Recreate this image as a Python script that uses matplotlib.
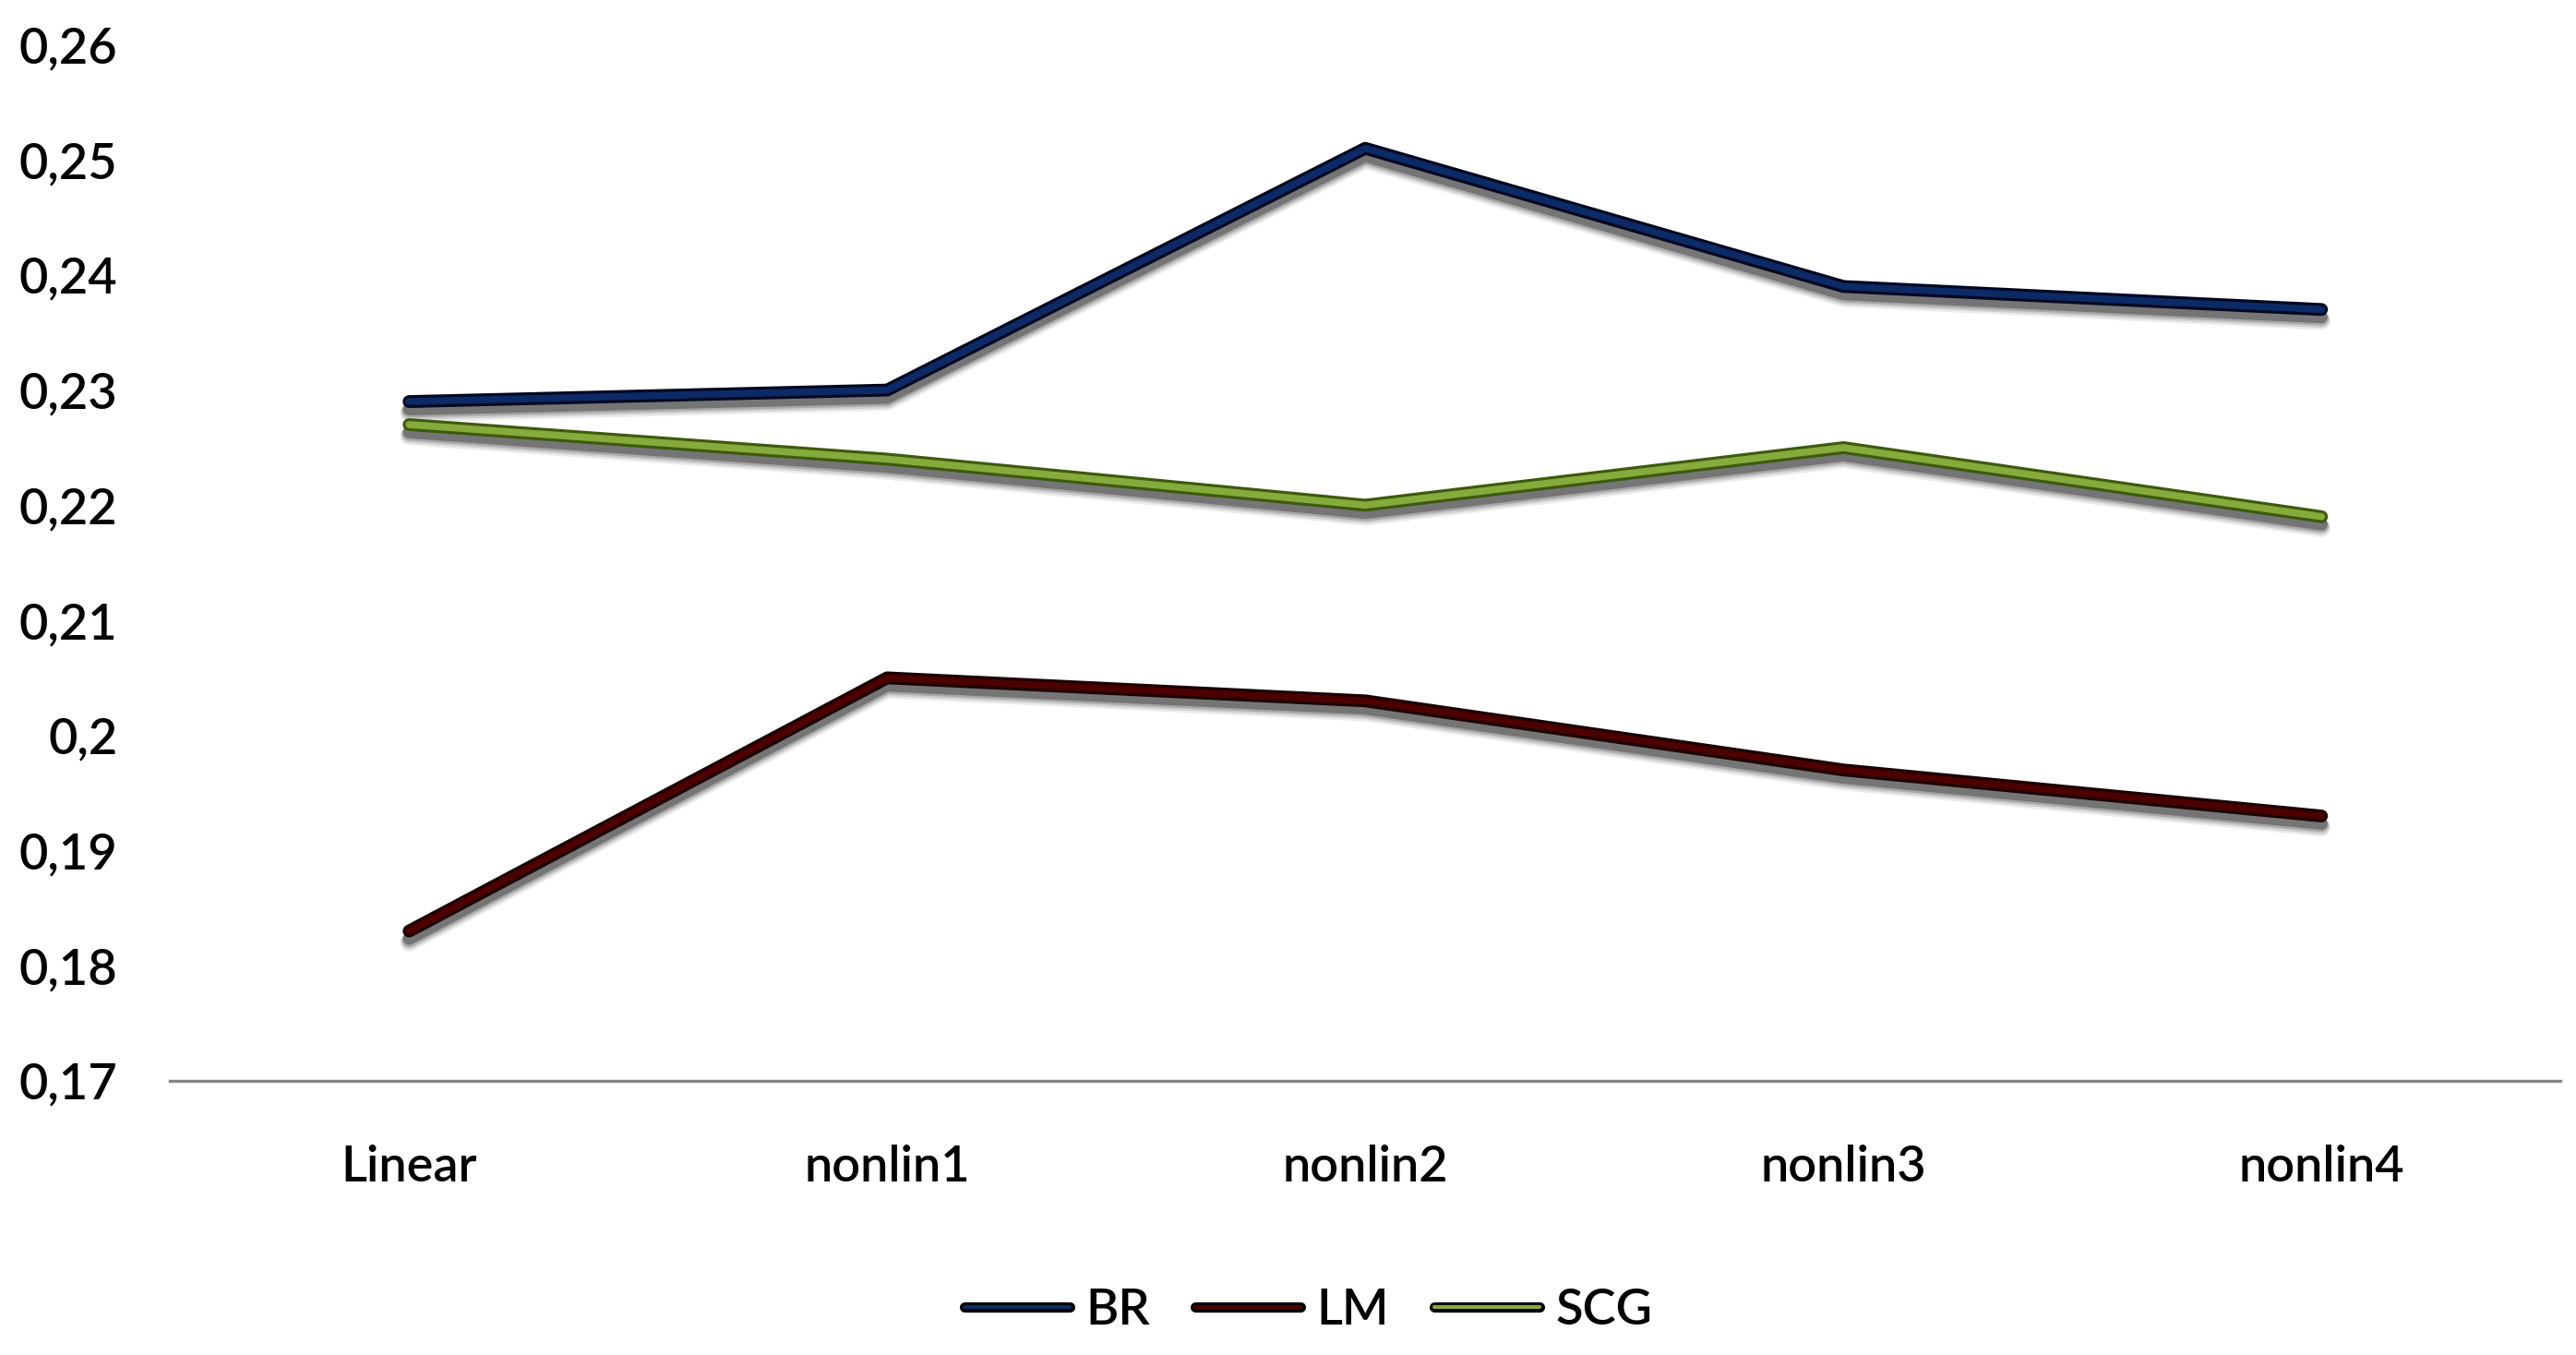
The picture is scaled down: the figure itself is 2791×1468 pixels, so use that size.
import matplotlib
matplotlib.use("Agg")
import matplotlib.pyplot as plt
import matplotlib.patheffects as pe
from matplotlib.ticker import FuncFormatter, MultipleLocator

categories = ["Linear", "nonlin1", "nonlin2", "nonlin3", "nonlin4"]
br = [0.229, 0.230, 0.251, 0.239, 0.237]
lm = [0.183, 0.205, 0.203, 0.197, 0.193]
scg = [0.227, 0.224, 0.220, 0.225, 0.219]
series_names = ["BR", "LM", "SCG"]

plt.rcParams['font.family'] = ['Lato', 'DejaVu Sans']
plt.rcParams['font.weight'] = 'semibold'

fig = plt.figure(figsize=(27.91, 14.68), dpi=100)
ax = fig.add_axes([0.066, 0.2024, 0.928, 0.7646])

styles = [
    ("#0c2a66", "#00081f"),
    ("#4c0000", "#1a0000"),
    ("#86aa3c", "#3d5a0e"),
]

x = list(range(len(categories)))
for vals, name, (col, edge) in zip([br, lm, scg], series_names, styles):
    effects = []
    for off, a, w in [(-9, 0.08, 14), (-8, 0.12, 12.5), (-7, 0.18, 11), (-6, 0.3, 9.5)]:
        effects.append(pe.SimpleLineShadow(offset=(0, off), shadow_color='black', alpha=a, linewidth=w))
    effects.append(pe.Stroke(linewidth=10, foreground=edge))
    effects.append(pe.Normal())
    ax.plot(x, vals, color=col, lw=5.5, solid_capstyle='round', solid_joinstyle='round',
            label=name, path_effects=effects, zorder=3)

ax.set_xlim(-0.5, 4.5)
ax.set_ylim(0.17, 0.26)
ax.yaxis.set_major_locator(MultipleLocator(0.01))

def fmt(v, pos):
    s = f"{v:.2f}".rstrip('0').rstrip('.')
    return s.replace('.', ',')

ax.yaxis.set_major_formatter(FuncFormatter(fmt))
ax.set_xticks(x)
ax.set_xticklabels(categories)

for s in ['top', 'right', 'left']:
    ax.spines[s].set_visible(False)
ax.spines['bottom'].set_color('#868686')
ax.spines['bottom'].set_linewidth(2.4)

ax.tick_params(axis='y', length=0, pad=41, labelsize=39)
ax.tick_params(axis='x', length=0, pad=50, labelsize=39)

leg = ax.legend(loc='center', bbox_to_anchor=(0.508, 0.033), bbox_transform=fig.transFigure,
                ncol=3, frameon=False, fontsize=39, handlelength=2.1,
                handletextpad=0.33, columnspacing=0.9)
for h, (col, edge) in zip(leg.get_lines(), styles):
    h.set_path_effects([pe.Stroke(linewidth=8, foreground='black'), pe.Normal()])
    h.set_linewidth(3)
    h.set_color(col)

fig.savefig("out.png", dpi=100)
